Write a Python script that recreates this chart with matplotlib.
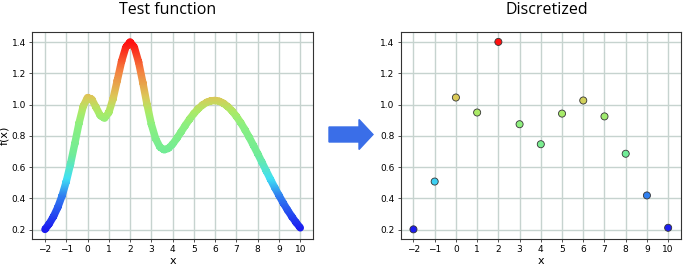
import numpy as np
import matplotlib
matplotlib.use("Agg")
from matplotlib import pyplot as plt
from matplotlib.colors import LinearSegmentedColormap, Normalize
from matplotlib.patches import FancyArrow
from matplotlib.path import Path
from matplotlib.transforms import IdentityTransform

# curve, every 0.2 from -2 to 10
curve_x = [round(-2 + 0.2 * i, 1) for i in range(61)]
curve_y = [0.2017, 0.2381, 0.2840, 0.3420, 0.4155, 0.5076, 0.6200, 0.7493, 0.8819, 0.9908,
           1.0456, 1.0353, 0.9828, 0.9303, 0.9137, 0.9500, 1.0370, 1.1560, 1.2773, 1.3680,
           1.4019, 1.3680, 1.2737, 1.1413, 0.9996, 0.8745, 0.7825, 0.7291, 0.7111, 0.7203,
           0.7474, 0.7848, 0.8264, 0.8683, 0.9079, 0.9434, 0.9737, 0.9978, 1.0150, 1.0249,
           1.0270, 1.0214, 1.0080, 0.9871, 0.9592, 0.9248, 0.8848, 0.8399, 0.7912, 0.7394,
           0.6857, 0.6310, 0.5761, 0.5220, 0.4693, 0.4188, 0.3708, 0.3259, 0.2844, 0.2463,
           0.2118]

# discretized samples (right panel)
disc_x = [-2, -1, 0, 1, 2, 3, 4, 5, 6, 7, 8, 9, 10]
disc_y = [0.202, 0.508, 1.046, 0.950, 1.402, 0.875, 0.747, 0.943, 1.027, 0.925, 0.686, 0.419, 0.212]

xticks = list(range(-2, 11))
yticks = [0.2, 0.4, 0.6, 0.8, 1.0, 1.2, 1.4]

cmap = LinearSegmentedColormap.from_list("fx", [
    (0.0, "#1c1cf0"), (0.18, "#3080f0"), (0.27, "#40e0f4"), (0.40, "#70ec98"),
    (0.56, "#8cf080"), (0.63, "#acea66"), (0.71, "#dcc858"), (0.85, "#f48040"),
    (1.0, "#ff1010")])
norm = Normalize(0.2, 1.4)

grid_col = "#c6d3cf"


def stroke_path(ax, xs, ys, r):
    # outline of a thick round-capped polyline, in pixels, as a union of
    # same-winding quads and discs
    p = ax.transData.transform(np.column_stack([xs, ys]))
    verts, codes = [], []

    def add(poly):
        poly = np.asarray(poly)
        x, y = poly[:, 0], poly[:, 1]
        area = np.sum(x * np.roll(y, -1) - np.roll(x, -1) * y)
        if area < 0:
            poly = poly[::-1]
        verts.extend(list(poly) + [poly[0]])
        codes.extend([Path.MOVETO] + [Path.LINETO] * (len(poly) - 1) + [Path.CLOSEPOLY])

    ang = np.linspace(0, 2 * np.pi, 24, endpoint=False)
    for a, b in zip(p[:-1], p[1:]):
        t = (b - a) / np.hypot(*(b - a))
        n = np.array([-t[1], t[0]]) * r
        add([a + n, b + n, b - n, a - n])
    for c in p:
        add(np.column_stack([c[0] + r * np.cos(ang), c[1] + r * np.sin(ang)]))
    return Path(np.array(verts), codes)


fig = plt.figure(figsize=(6.85, 2.65), dpi=100)
ax1 = fig.add_axes([0.047, 0.098, 0.410, 0.781])
ax2 = fig.add_axes([0.585, 0.098, 0.409, 0.781])

for ax in (ax1, ax2):
    ax.set_axisbelow(True)
    ax.grid(True, color=grid_col, linewidth=1.0)
    ax.set_xticks(xticks)
    ax.set_yticks(yticks)
    ax.set_xlim(-2.6, 10.6)
    ax.set_ylim(0.14, 1.465)
    ax.tick_params(labelsize=6.5, length=2.5, width=0.6, pad=2, color="#333333")
    for s in ax.spines.values():
        s.set_color("#333333")
        s.set_linewidth(0.8)
    ax.set_xlabel("x", fontsize=8, labelpad=1)

# left: thick curve coloured by its own value (vertical gradient clipped to the stroke)
grad = np.linspace(0.14, 1.465, 400).reshape(-1, 1)
im = ax1.imshow(grad, extent=[-2.6, 10.6, 0.14, 1.465], origin="lower", aspect="auto",
                cmap=cmap, norm=norm, interpolation="bilinear", zorder=2)
im.set_clip_path(stroke_path(ax1, curve_x, curve_y, 3.7), IdentityTransform())
ax1.set_ylabel("f(x)", fontsize=8, labelpad=2)

# right: sampled points
ax2.scatter(disc_x, disc_y, c=cmap(norm(disc_y)), s=26, edgecolors="#333333",
            linewidths=0.6, zorder=3)

fig.text(0.244, 0.962, "Test function", ha="center", va="center",
         fontsize=11.5, family="Open Sans")
fig.text(0.798, 0.962, "Discretized", ha="center", va="center",
         fontsize=11.5, family="Open Sans")

arrow = FancyArrow(3.29, 1.305, 0.30, 0, width=0.15, head_width=0.30,
                   head_length=0.14, length_includes_head=False,
                   color="#3a6ee8", transform=fig.dpi_scale_trans)
fig.patches.append(arrow)

fig.savefig("out.png", dpi=100)
